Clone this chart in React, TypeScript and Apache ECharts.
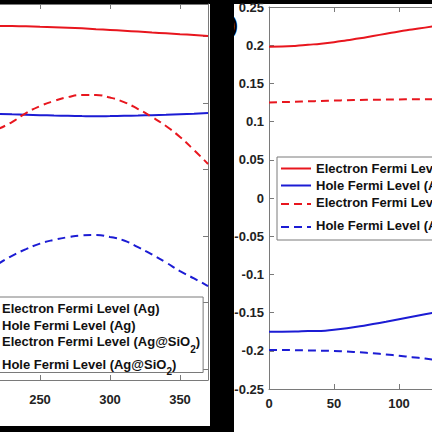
import React, { useEffect, useRef } from "react";
import * as echarts from "echarts";

// ---- Left panel (x: temperature-like axis, clipped) ----
const leftX = [220, 230, 240, 250, 260, 270, 280, 290, 300, 310, 320, 330, 340, 350, 360, 370];
const leftElecAg = [0.0577, 0.0576, 0.0574, 0.0571, 0.0568, 0.0564, 0.0559, 0.0553, 0.0547, 0.0541, 0.0535, 0.0528, 0.0522, 0.0515, 0.0509, 0.0502];
const leftHoleAg = [-0.0083, -0.0087, -0.009, -0.0093, -0.0096, -0.0098, -0.01, -0.0101, -0.01, -0.0098, -0.0096, -0.0093, -0.009, -0.0086, -0.0082, -0.0077];
const leftElecAgSiO2 = [-0.0198, -0.0145, -0.0077, -0.0025, 0.0013, 0.0043, 0.0058, 0.0058, 0.0039, 0.0005, -0.0047, -0.0107, -0.0175, -0.0257, -0.0355, -0.046];
const leftHoleAgSiO2 = [-0.1212, -0.115, -0.11, -0.1058, -0.103, -0.101, -0.0997, -0.0994, -0.1008, -0.1035, -0.1085, -0.114, -0.12, -0.1265, -0.132, -0.1377];

// ---- Right panel ----
const rightX = [0, 10, 20, 30, 40, 50, 60, 70, 80, 90, 100, 110, 120, 130];
const rightElecAg = [0.198, 0.1982, 0.199, 0.2005, 0.202, 0.204, 0.2065, 0.209, 0.212, 0.215, 0.218, 0.2205, 0.223, 0.2255];
const rightHoleAg = [-0.175, -0.175, -0.1748, -0.1742, -0.174, -0.1725, -0.1705, -0.168, -0.165, -0.162, -0.1588, -0.1555, -0.1523, -0.149];
const rightElecAgSiO2 = [0.125, 0.1255, 0.126, 0.1265, 0.127, 0.1275, 0.128, 0.1283, 0.1286, 0.1288, 0.129, 0.1292, 0.1293, 0.1294];
const rightHoleAgSiO2 = [-0.199, -0.199, -0.1992, -0.1995, -0.1998, -0.2003, -0.201, -0.202, -0.2033, -0.2048, -0.2065, -0.2083, -0.2102, -0.2122];

const seriesNames = [
  "Electron Fermi Level (Ag)",
  "Hole Fermi Level (Ag)",
  "Electron Fermi Level (Ag@SiO2)",
  "Hole Fermi Level (Ag@SiO2)",
];

const leftXRange = [200, 370];
const leftXStep = 50;
const leftYRange = [-0.2083, 0.0742];
const rightXRange = [0, 150];
const rightXStep = 50;
const rightYRange = [-0.25, 0.25];
const rightYStep = 0.05;

const RED = "#e8161e";
const BLUE = "#1c1cd4";
const AXIS = "#7a7a7a";
const FONT = "Liberation Sans";

const styles = [
  { color: RED, type: "solid" },
  { color: BLUE, type: "solid" },
  { color: RED, type: [8, 5] },
  { color: BLUE, type: [8, 5] },
];

const zip = (xs: number[], ys: number[]) => xs.map((x, i) => [x, ys[i]]);

const legendFormatter = (name: string) => {
  const m = name.match(/^(.*SiO)2\)$/);
  if (m) return `{m|${m[1]}}{s|2}{m|)}`;
  return `{n|${name}}`;
};

const rich = {
  n: { fontSize: 13, fontWeight: "bold", fontFamily: FONT, color: "#111", lineHeight: 14 },
  m: { fontSize: 13, fontWeight: "bold", fontFamily: FONT, color: "#111", lineHeight: 16, verticalAlign: "top" },
  s: { fontSize: 10, fontWeight: "bold", fontFamily: FONT, color: "#111", lineHeight: 12, padding: [9, 0, 0, 0], verticalAlign: "top" },
};

const labelStyle = { fontSize: 13, fontWeight: "bold", fontFamily: FONT, color: "#222" };

export default function App() {
  const ref = useRef<HTMLDivElement>(null);
  useEffect(() => {
    document.body.style.margin = "0";
    const chart = echarts.init(ref.current!, null, { renderer: "svg" });
    const axisLine = { show: true, onZero: false, lineStyle: { color: AXIS, width: 1 } };
    const tickIn = { show: true, inside: true, length: 5, lineStyle: { color: AXIS } };
    const mk = (xs: number[], ys: number[][], xi: number, yi: number) =>
      seriesNames.map((name, i) => ({
        name,
        type: "line",
        xAxisIndex: xi,
        yAxisIndex: yi,
        data: zip(xs, ys[i]),
        showSymbol: false,
        symbol: "none",
        smooth: true,
        lineStyle: { color: styles[i].color, width: 2, type: styles[i].type },
        itemStyle: { color: styles[i].color },
      }));
    const leftSeries = mk(leftX, [leftElecAg, leftHoleAg, leftElecAgSiO2, leftHoleAgSiO2], 0, 0);
    const rightSeries = mk(rightX, [rightElecAg, rightHoleAg, rightElecAgSiO2, rightHoleAgSiO2], 2, 2);
    const legendCommon = {
      orient: "vertical",
      data: seriesNames,
      itemWidth: 30,
      itemHeight: 14,
      formatter: legendFormatter,
      textStyle: { rich, fontSize: 13, fontWeight: "bold", fontFamily: FONT },
      itemStyle: { color: "rgba(0,0,0,0)", borderColor: "rgba(0,0,0,0)", borderWidth: 0, opacity: 0 },
      backgroundColor: "#fff",
      borderColor: AXIS,
      borderWidth: 1,
      selectedMode: false,
    };
    const gridBase = { outerBoundsMode: "none", containLabel: false };
    chart.setOption({
      animation: false,
      backgroundColor: "#000",
      graphic: [
        { type: "rect", z: -10, shape: { x: 0, y: 4, width: 210, height: 422 }, style: { fill: "#fff" } },
        { type: "rect", z: -10, shape: { x: 234, y: 4, width: 198, height: 428 }, style: { fill: "#fff" } },
        { type: "text", z: -5, x: 238, y: 25, style: { text: ")", fill: "#000", font: `bold 20px ${FONT}`, align: "right", verticalAlign: "middle" } },
      ],
      grid: [
        { ...gridBase, left: -30, top: 4, width: 238, height: 376 },
        { ...gridBase, left: 269, top: 7, width: 195, height: 382 },
      ],
      xAxis: [
        {
          gridIndex: 0, type: "value", position: "bottom", min: leftXRange[0], max: leftXRange[1], interval: leftXStep,
          axisLine, axisTick: tickIn, splitLine: { show: false },
          axisLabel: { ...labelStyle, margin: 13, showMinLabel: false, showMaxLabel: false },
        },
        {
          gridIndex: 0, type: "value", position: "top", min: leftXRange[0], max: leftXRange[1], interval: leftXStep,
          axisLine, axisTick: tickIn, splitLine: { show: false }, axisLabel: { show: false },
        },
        {
          gridIndex: 1, type: "value", position: "bottom", min: rightXRange[0], max: rightXRange[1], interval: rightXStep,
          axisLine, axisTick: tickIn, splitLine: { show: false },
          axisLabel: { ...labelStyle, margin: 8, showMaxLabel: false },
        },
        {
          gridIndex: 1, type: "value", position: "top", min: rightXRange[0], max: rightXRange[1], interval: rightXStep,
          axisLine, axisTick: tickIn, splitLine: { show: false }, axisLabel: { show: false },
        },
      ],
      yAxis: [
        {
          gridIndex: 0, type: "value", position: "left", min: leftYRange[0], max: leftYRange[1],
          axisLine, axisTick: tickIn, splitLine: { show: false }, axisLabel: { show: false },
        },
        {
          gridIndex: 0, type: "value", position: "right", min: leftYRange[0], max: leftYRange[1],
          axisLine, axisTick: tickIn, splitLine: { show: false }, axisLabel: { show: false },
        },
        {
          gridIndex: 1, type: "value", position: "left", min: rightYRange[0], max: rightYRange[1], interval: rightYStep,
          axisLine, axisTick: tickIn, splitLine: { show: false },
          axisLabel: { ...labelStyle, margin: 5 },
        },
        {
          gridIndex: 1, type: "value", position: "right", min: rightYRange[0], max: rightYRange[1], interval: rightYStep,
          axisLine, axisTick: tickIn, splitLine: { show: false }, axisLabel: { show: false },
        },
      ],
      legend: [
        { ...legendCommon, left: -39, top: 297, itemGap: 3.5, padding: [5, 3, -4, 5] },
        { ...legendCommon, left: 277, top: 157, itemGap: 4, padding: [5, 3, 2, 3] },
      ],
      series: [...leftSeries, ...rightSeries],
    });
    return () => chart.dispose();
  }, []);
  return <div ref={ref} style={{ position: "absolute", left: 0, top: 0, width: 432, height: 432 }} />;
}
